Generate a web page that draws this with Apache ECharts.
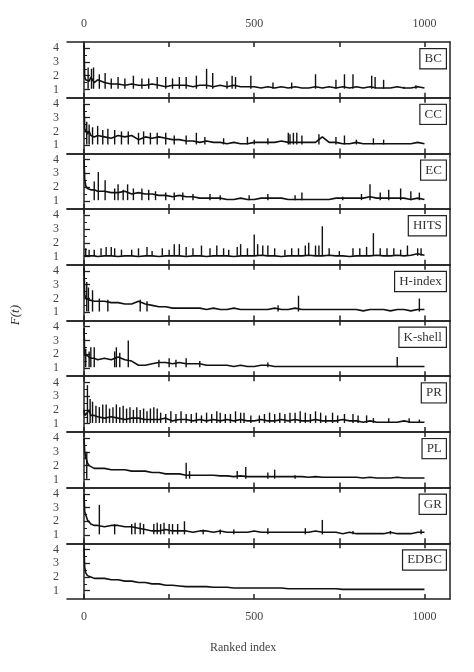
<!DOCTYPE html>
<html>
<head>
<meta charset="utf-8">
<script src="https://cdn.jsdelivr.net/npm/echarts@6/dist/echarts.min.js"></script>
<style>html,body{margin:0;padding:0;background:#fff}#chart{width:474px;height:672px}</style>
</head>
<body>
<div id="chart"></div>
<script>
// shared ranked-index sample positions for the baseline curves
var xs = [0, 2, 5, 10, 15, 20, 30, 40, 60, 80, 100, 120, 140, 160, 180, 200, 220, 240, 260, 280, 300,
  320, 340, 360, 380, 400, 420, 440, 460, 480, 500, 520, 540, 560, 580, 600, 620, 640, 660, 680, 700,
  720, 740, 760, 780, 800, 820, 840, 860, 880, 900, 920, 940, 960, 980, 1000];

var names = ['BC', 'CC', 'EC', 'HITS', 'H-index', 'K-shell', 'PR', 'PL', 'GR', 'EDBC'];

var baseBC = [4.2, 1.9, 1.7, 1.8, 1.6, 1.9, 1.5, 1.7, 1.5, 1.4, 1.4, 1.3, 1.4, 1.3, 1.3, 1.4, 1.3, 1.2, 1.3, 1.3,
  1.3, 1.2, 1.3, 1.3, 1.2, 1.3, 1.2, 1.3, 1.2, 1.2, 1.2, 1.1, 1.2, 1.1, 1.2, 1.1, 1.2, 1.1, 1.1, 1.2, 1.1,
  1.2, 1.1, 1.2, 1.1, 1.2, 1.1, 1.2, 1.1, 1.1, 1.1, 1.2, 1.1, 1.1, 1.2, 1.1];
var spikeBC = [[12, 2.6], [22, 2.5], [28, 2.6], [45, 2.1], [62, 2.2], [80, 1.8], [100, 1.9], [120, 1.8], [145, 2.0],
  [170, 1.8], [190, 1.8], [215, 1.9], [240, 1.9], [260, 1.8], [280, 1.9], [300, 1.9], [330, 2.0], [360, 2.5],
  [378, 2.2], [420, 1.6], [435, 2.0], [445, 1.9], [490, 2.0], [555, 1.5], [610, 1.5], [680, 2.1], [740, 1.7],
  [765, 2.1], [790, 2.1], [845, 2.0], [855, 1.9], [880, 1.7], [940, 1.2], [975, 1.3]];

var baseCC = [4.0, 2.2, 2.0, 1.8, 2.0, 1.7, 1.6, 1.7, 1.6, 1.5, 1.7, 1.6, 1.7, 1.4, 1.6, 1.5, 1.6, 1.5, 1.4, 1.4,
  1.3, 1.3, 1.2, 1.3, 1.2, 1.2, 1.1, 1.2, 1.1, 1.1, 1.2, 1.2, 1.2, 1.2, 1.3, 1.2, 1.2, 1.2, 1.2, 1.2, 1.6,
  1.2, 1.2, 1.1, 1.1, 1.2, 1.1, 1.1, 1.1, 1.1, 1.1, 1.1, 1.1, 1.1, 1.2, 1.1];
var spikeCC = [[8, 2.7], [15, 2.5], [25, 2.3], [40, 2.4], [55, 2.1], [70, 2.2], [90, 2.1], [110, 2.0], [130, 2.0],
  [160, 1.9], [175, 2.0], [195, 1.9], [215, 1.9], [240, 1.9], [265, 1.7], [300, 1.7], [330, 1.9], [355, 1.6],
  [410, 1.5], [480, 1.6], [500, 1.4], [540, 1.5], [600, 1.9], [605, 1.8], [615, 1.9], [625, 1.9], [640, 1.7],
  [690, 1.8], [740, 1.6], [765, 1.7], [800, 1.4], [850, 1.5], [880, 1.4]];

var baseEC = [4.0, 2.6, 2.1, 1.9, 1.8, 1.8, 1.8, 1.7, 1.7, 1.6, 1.6, 1.7, 1.5, 1.6, 1.5, 1.5, 1.4, 1.4, 1.3, 1.4,
  1.3, 1.3, 1.2, 1.2, 1.2, 1.2, 1.1, 1.1, 1.2, 1.1, 1.1, 1.2, 1.2, 1.2, 1.2, 1.1, 1.1, 1.1, 1.1, 1.1, 1.1,
  1.1, 1.2, 1.2, 1.2, 1.2, 1.2, 1.3, 1.2, 1.2, 1.2, 1.2, 1.2, 1.1, 1.2, 1.1];
var spikeEC = [[30, 2.4], [42, 3.1], [62, 2.5], [90, 1.9], [100, 2.2], [115, 1.8], [128, 2.2], [145, 1.9], [170, 1.9],
  [190, 1.8], [210, 1.7], [240, 1.6], [265, 1.6], [290, 1.6], [320, 1.5], [370, 1.5], [400, 1.4], [485, 1.4],
  [540, 1.5], [620, 1.4], [640, 1.6], [760, 1.3], [815, 1.5], [840, 2.2], [870, 1.6], [895, 1.8], [930, 1.9],
  [960, 1.7], [985, 1.6]];

var baseHITS = [1.05, 1.05, 1.0, 1.05, 1.0, 1.05, 1.05, 1.0, 1.05, 1.05, 1.0, 1.05, 1.05, 1.0, 1.05, 1.05, 1.0,
  1.05, 1.05, 1.05, 1.0, 1.05, 1.05, 1.0, 1.05, 1.05, 1.05, 1.0, 1.05, 1.05, 1.05, 1.1, 1.05, 1.05, 1.0, 1.05,
  1.05, 1.05, 1.1, 1.05, 1.05, 1.1, 1.05, 1.05, 1.0, 1.05, 1.05, 1.05, 1.1, 1.05, 1.05, 1.1, 1.05, 1.1, 1.2, 1.1];
var spikeHITS = [[5, 1.6], [15, 1.5], [30, 1.5], [50, 1.6], [65, 1.7], [80, 1.7], [90, 1.6], [110, 1.5], [140, 1.5],
  [160, 1.6], [185, 1.7], [200, 1.4], [230, 1.6], [250, 1.5], [265, 1.9], [280, 1.9], [300, 1.7], [320, 1.6],
  [345, 1.8], [370, 1.6], [390, 1.8], [410, 1.6], [425, 1.5], [450, 1.7], [460, 1.9], [480, 1.6], [500, 2.6],
  [510, 1.9], [525, 1.8], [540, 1.8], [560, 1.6], [590, 1.5], [610, 1.6], [630, 1.6], [650, 1.8], [660, 2.0],
  [680, 1.8], [690, 1.8], [700, 3.2], [720, 1.6], [750, 1.4], [790, 1.6], [810, 1.6], [830, 1.7], [850, 2.7],
  [870, 1.6], [890, 1.6], [910, 1.6], [930, 1.5], [950, 1.8], [980, 1.6], [990, 1.6]];

var baseHindex = [4.2, 2.3, 2.0, 1.9, 1.9, 1.8, 1.8, 1.8, 1.8, 1.7, 1.7, 1.6, 1.6, 1.8, 1.6, 1.5, 1.4, 1.4, 1.3,
  1.3, 1.3, 1.3, 1.3, 1.2, 1.3, 1.2, 1.2, 1.3, 1.2, 1.2, 1.2, 1.2, 1.2, 1.3, 1.2, 1.2, 1.3, 1.2, 1.2, 1.2, 1.2,
  1.2, 1.2, 1.2, 1.2, 1.2, 1.1, 1.2, 1.2, 1.2, 1.1, 1.2, 1.2, 1.1, 1.2, 1.2];
var spikeHindex = [[8, 3.2], [13, 2.8], [25, 2.6], [45, 2.0], [70, 1.9], [165, 1.9], [185, 1.8], [570, 1.5],
  [630, 2.2], [985, 2.0]];

var baseKshell = [3.9, 1.9, 1.8, 1.9, 1.8, 1.7, 1.7, 1.6, 1.7, 1.6, 1.8, 1.6, 1.5, 1.2, 1.2, 1.3, 1.4, 1.4, 1.3,
  1.4, 1.3, 1.3, 1.3, 1.2, 1.2, 1.2, 1.2, 1.1, 1.2, 1.1, 1.1, 1.2, 1.2, 1.1, 1.1, 1.1, 1.1, 1.1, 1.1, 1.1, 1.1,
  1.1, 1.1, 1.1, 1.1, 1.1, 1.1, 1.1, 1.1, 1.1, 1.1, 1.1, 1.1, 1.1, 1.1, 1.1];
var spikeKshell = [[5, 2.4], [15, 2.2], [20, 2.5], [30, 2.5], [90, 2.2], [95, 2.5], [105, 2.1], [130, 3.0],
  [220, 1.6], [250, 1.7], [270, 1.6], [300, 1.7], [340, 1.5], [540, 1.4], [920, 1.8]];

var basePR = [2.0, 1.6, 1.7, 1.8, 2.0, 1.6, 1.6, 1.5, 1.4, 1.5, 1.4, 1.3, 1.4, 1.4, 1.3, 1.3, 1.3, 1.4, 1.2, 1.3,
  1.3, 1.2, 1.3, 1.2, 1.3, 1.2, 1.3, 1.2, 1.3, 1.2, 1.2, 1.3, 1.2, 1.2, 1.3, 1.2, 1.3, 1.2, 1.2, 1.3, 1.2,
  1.2, 1.2, 1.3, 1.2, 1.2, 1.1, 1.2, 1.1, 1.1, 1.1, 1.1, 1.2, 1.1, 1.1, 1.1];
var spikePR = [[10, 3.8], [18, 2.8], [25, 2.6], [35, 2.3], [45, 2.2], [55, 2.4], [65, 2.4], [75, 2.1], [85, 2.2],
  [95, 2.4], [105, 2.2], [115, 2.3], [125, 2.1], [135, 2.2], [145, 2.0], [155, 2.2], [165, 2.0], [175, 2.1],
  [185, 1.9], [195, 2.1], [205, 2.2], [215, 2.1], [225, 1.8], [240, 1.7], [255, 1.9], [270, 1.7], [285, 1.9],
  [300, 1.7], [315, 1.7], [330, 1.8], [345, 1.6], [360, 1.8], [375, 1.7], [390, 1.9], [400, 1.8], [415, 1.7],
  [430, 1.7], [445, 1.9], [460, 1.8], [470, 1.8], [490, 1.6], [515, 1.6], [530, 1.7], [545, 1.8], [560, 1.7],
  [575, 1.8], [590, 1.7], [605, 1.8], [620, 1.8], [635, 1.9], [650, 1.8], [665, 1.7], [680, 1.9], [695, 1.8],
  [710, 1.6], [730, 1.8], [745, 1.6], [765, 1.7], [790, 1.7], [805, 1.6], [830, 1.6], [850, 1.4], [895, 1.4],
  [955, 1.4], [985, 1.3]];

var basePL = [4.0, 3.0, 2.6, 2.2, 2.0, 1.9, 1.8, 1.8, 1.8, 1.7, 1.7, 1.7, 1.6, 1.6, 1.6, 1.5, 1.5, 1.4, 1.4, 1.4,
  1.3, 1.3, 1.3, 1.3, 1.3, 1.25, 1.25, 1.2, 1.25, 1.2, 1.2, 1.2, 1.2, 1.2, 1.2, 1.2, 1.2, 1.2, 1.15, 1.2, 1.15,
  1.15, 1.15, 1.15, 1.15, 1.15, 1.1, 1.15, 1.1, 1.1, 1.1, 1.15, 1.1, 1.1, 1.1, 1.1];
var spikePL = [[8, 3.0], [300, 2.2], [310, 1.6], [450, 1.6], [475, 1.9], [540, 1.5], [560, 1.7], [620, 1.3]];

var baseGR = [4.0, 2.7, 2.5, 2.1, 2.0, 1.8, 1.7, 1.7, 1.6, 1.7, 1.7, 1.6, 1.6, 1.5, 1.4, 1.3, 1.3, 1.4, 1.3, 1.3,
  1.3, 1.2, 1.3, 1.3, 1.2, 1.3, 1.2, 1.2, 1.2, 1.2, 1.3, 1.2, 1.2, 1.2, 1.2, 1.2, 1.2, 1.2, 1.2, 1.3, 1.2,
  1.2, 1.2, 1.1, 1.2, 1.1, 1.1, 1.1, 1.1, 1.1, 1.2, 1.1, 1.1, 1.1, 1.2, 1.2];
var spikeGR = [[45, 3.2], [90, 1.8], [140, 1.8], [150, 1.9], [165, 1.9], [175, 1.8], [205, 1.8], [215, 1.9],
  [225, 1.8], [235, 1.9], [250, 1.8], [260, 1.8], [275, 1.8], [295, 2.0], [350, 1.4], [400, 1.4], [440, 1.4],
  [540, 1.5], [650, 1.5], [700, 2.1], [790, 1.3], [900, 1.3], [990, 1.4]];

var baseEDBC = [4.1, 2.7, 2.3, 2.1, 2.0, 2.0, 1.9, 1.9, 1.9, 1.8, 1.8, 1.7, 1.7, 1.6, 1.6, 1.5, 1.5, 1.4, 1.4,
  1.35, 1.3, 1.3, 1.3, 1.3, 1.25, 1.25, 1.25, 1.2, 1.2, 1.2, 1.2, 1.2, 1.2, 1.2, 1.2, 1.15, 1.15, 1.15, 1.15,
  1.15, 1.15, 1.15, 1.15, 1.1, 1.1, 1.1, 1.1, 1.1, 1.1, 1.1, 1.1, 1.1, 1.1, 1.1, 1.1, 1.1];
var spikeEDBC = [];

var bases = [baseBC, baseCC, baseEC, baseHITS, baseHindex, baseKshell, basePR, basePL, baseGR, baseEDBC];
var spikes = [spikeBC, spikeCC, spikeEC, spikeHITS, spikeHindex, spikeKshell, spikePR, spikePL, spikeGR, spikeEDBC];

var FONT = '"Liberation Serif", "DejaVu Serif", serif';
var TOP = 42, PH = 55.7, LEFT = 67, RIGHT = 24;

var grids = [], xAxes = [], yAxes = [], series = [], graphics = [];

for (var i = 0; i < 10; i++) {
  grids.push({ left: LEFT, right: RIGHT, top: TOP + i * PH, height: PH });

  var xb = xAxes.length;
  // bottom and top x axes of each panel, ticks pointing in
  ['bottom', 'top'].forEach(function (pos) {
    var showLab = (pos === 'top' && i === 0) || (pos === 'bottom' && i === 9);
    xAxes.push({
      type: 'value', gridIndex: i, position: pos, min: -50, max: 1075,
      axisLine: { show: true, lineStyle: { color: '#222', width: 1.5 } },
      axisTick: { show: true, inside: true, length: 5, customValues: [0, 250, 500, 750, 1000], lineStyle: { color: '#222', width: 1.5 } },
      axisLabel: {
        show: showLab, customValues: [0, 500, 1000], margin: 12, color: '#444', fontFamily: FONT, fontSize: 12,
        formatter: function (v) { return String(v); }
      },
      splitLine: { show: false }
    });
  });

  var yb = yAxes.length;
  yAxes.push({
    type: 'value', gridIndex: i, position: 'left', min: 0.4, max: 4.45,
    axisLine: { show: true, lineStyle: { color: '#222', width: 1.5 } },
    axisTick: { show: true, inside: true, length: 6, customValues: [1, 2, 3, 4], lineStyle: { color: '#222', width: 1.3 } },
    axisLabel: { customValues: [1, 2, 3, 4], margin: 8, color: '#444', fontFamily: FONT, fontSize: 12 },
    splitLine: { show: false }
  });
  yAxes.push({
    type: 'value', gridIndex: i, position: 'left', min: 0.4, max: 4.45,
    axisLine: { show: false },
    axisTick: { show: true, inside: true, length: 3, customValues: [1.5, 2.5, 3.5], lineStyle: { color: '#222', width: 1 } },
    axisLabel: { show: false }, splitLine: { show: false }
  });
  yAxes.push({
    type: 'value', gridIndex: i, position: 'right', min: 0.4, max: 4.45,
    axisLine: { show: true, lineStyle: { color: '#222', width: 1.5 } },
    axisTick: { show: false }, axisLabel: { show: false }, splitLine: { show: false }
  });

  series.push({
    type: 'line', xAxisIndex: xb, yAxisIndex: yb, symbol: 'none', silent: true,
    lineStyle: { color: '#111', width: 1.6 },
    data: xs.map(function (x, k) { return [x, bases[i][k]]; })
  });
  series.push({
    type: 'custom', xAxisIndex: xb, yAxisIndex: yb, silent: true,
    data: spikes[i],
    renderItem: function (params, api) {
      var p0 = api.coord([api.value(0), 1.05]);
      var p1 = api.coord([api.value(0), api.value(1)]);
      return { type: 'line', shape: { x1: p0[0], y1: p0[1], x2: p1[0], y2: p1[1] }, style: { stroke: '#111', lineWidth: 1.4 } };
    }
  });

  graphics.push({
    type: 'text', right: 27, top: TOP + i * PH + 6, z: 100,
    style: {
      text: names[i], font: '13px ' + FONT, fill: '#333',
      backgroundColor: '#fff', borderColor: '#222', borderWidth: 1.2, padding: [3, 4, 3, 4]
    }
  });
}

graphics.push({
  type: 'text', left: 9, top: 305, rotation: Math.PI / 2,
  style: { text: 'F(t)', font: 'italic 13px ' + FONT, fill: '#333' }
});
graphics.push({
  type: 'text', left: 210, top: 642,
  style: { text: 'Ranked index', font: '12px ' + FONT, fill: '#444' }
});

var myChart = echarts.init(document.getElementById('chart'));
myChart.setOption({
  animation: false,
  grid: grids, xAxis: xAxes, yAxis: yAxes, series: series, graphic: graphics
});
</script>
</body>
</html>
